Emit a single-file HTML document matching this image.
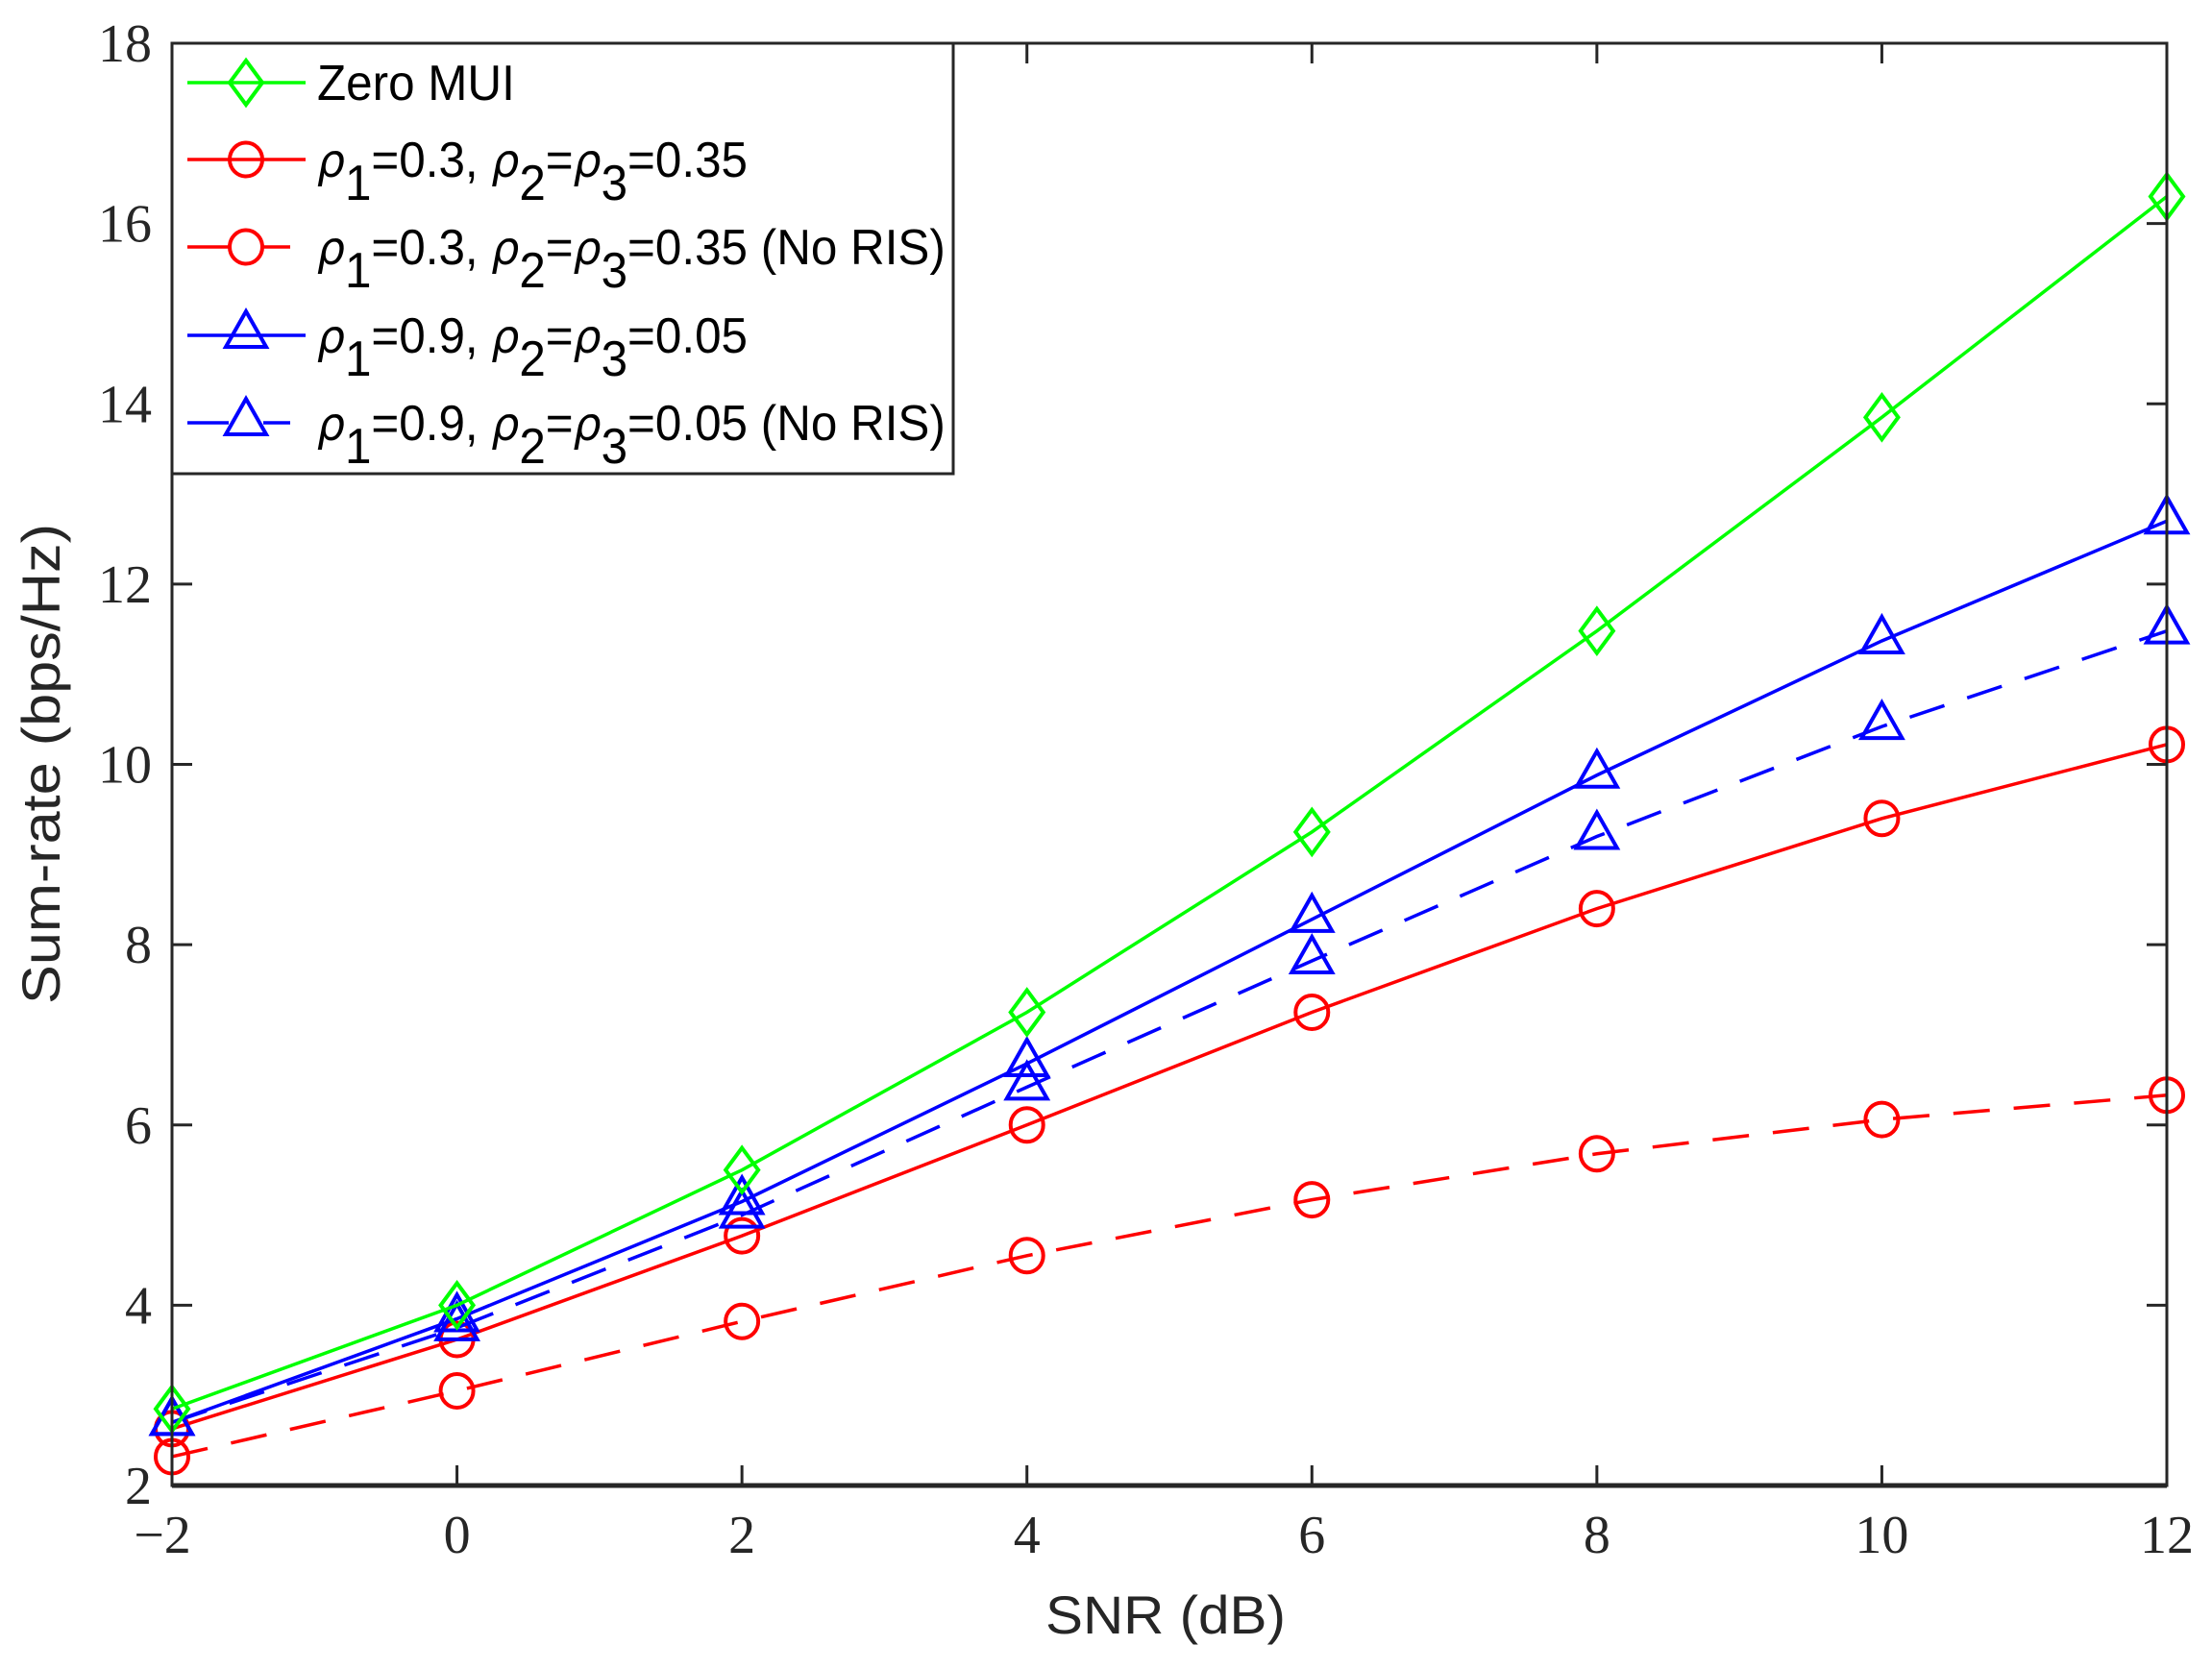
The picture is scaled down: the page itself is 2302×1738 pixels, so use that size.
<!DOCTYPE html>
<html><head><meta charset="utf-8"><style>html,body{margin:0;padding:0;background:#fff}svg{display:block}</style></head>
<body>
<svg id="s" xmlns="http://www.w3.org/2000/svg" width="2302" height="1738" viewBox="0 0 2302 1738">
<rect x="0" y="0" width="2302" height="1738" fill="#fff"/>
<g id="series"></g>
<g id="axes" stroke="#262626" stroke-width="3" fill="none"></g>
<g id="ticks" font-family="'Liberation Serif',serif" font-size="56" fill="#262626"></g>
<text x="1213" y="1700" text-anchor="middle" font-family="'Liberation Sans',sans-serif" font-size="56" fill="#262626" textLength="250" lengthAdjust="spacingAndGlyphs">SNR (dB)</text>
<text transform="translate(62,795) rotate(-90)" text-anchor="middle" font-family="'Liberation Sans',sans-serif" font-size="56" fill="#262626" textLength="500" lengthAdjust="spacingAndGlyphs">Sum-rate (bps/Hz)</text>
<g id="legend"></g>
</svg>
<script>
var NS="http://www.w3.org/2000/svg";
function el(p,t,a,txt){var e=document.createElementNS(NS,t);for(var k in a)e.setAttribute(k,a[k]);if(txt!=null)e.textContent=txt;p.appendChild(e);return e;}
var L=179,R=2255,T=45,B=1546;
function X(v){return L+(v+2)/14*(R-L);}
function Y(v){return B-(v-2)/16*(B-T);}
var xs=[-2,0,2,4,6,8,10,12];
var S=[
 {c:"#00ff00",d:null,m:"d",y:[2.85,4.0,5.5,7.25,9.25,11.48,13.85,16.3]},
 {c:"#0000ff",d:null,m:"t",y:[2.7,3.85,5.15,6.68,8.28,9.88,11.37,12.7]},
 {c:"#0000ff",d:"38 25",m:"t",y:[2.7,3.75,5.0,6.42,7.82,9.2,10.42,11.48]},
 {c:"#ff0000",d:null,m:"o",y:[2.63,3.62,4.77,6.0,7.25,8.4,9.4,10.22]},
 {c:"#ff0000",d:"38 25",m:"o",y:[2.32,3.05,3.82,4.55,5.17,5.68,6.06,6.33]}
];
function marker(g,m,x,y,c){
 var a={fill:"none",stroke:c,"stroke-width":4};
 if(m=="d"){a.points=[x,y-23,x+17,y,x,y+23,x-17,y].join(" ");el(g,"polygon",a);}
 else if(m=="t"){a.points=[x,y-25,x+21,y+12,x-21,y+12].join(" ");el(g,"polygon",a);}
 else{a.cx=x;a.cy=y;a.rx=17;a.ry=17.5;el(g,"ellipse",a);}
}
var sg=document.getElementById("series");
[4,3,2,1,0].forEach(function(i){var s=S[i];
 var pts=xs.map(function(x,j){return X(x)+","+Y(s.y[j]);}).join(" ");
 var a={points:pts,fill:"none",stroke:s.c,"stroke-width":3.5};if(s.d)a["stroke-dasharray"]=s.d;
 el(sg,"polyline",a);
 xs.forEach(function(x,j){marker(sg,s.m,X(x),Y(s.y[j]),s.c);});
});
var ax=document.getElementById("axes");
el(ax,"rect",{x:L,y:T,width:R-L,height:B-T});
el(ax,"line",{x1:L,y1:B,x2:R,y2:B,"stroke-width":5});
var tk=document.getElementById("ticks");
xs.forEach(function(x){
 el(ax,"line",{x1:X(x),y1:B,x2:X(x),y2:B-21});el(ax,"line",{x1:X(x),y1:T,x2:X(x),y2:T+21});
 el(tk,"text",{x:X(x)-(x<0?10:0),y:1616,"text-anchor":"middle"},x<0?"\u22122":String(x));
});
for(var v=2;v<=18;v+=2){
 el(ax,"line",{x1:L,y1:Y(v),x2:L+21,y2:Y(v)});el(ax,"line",{x1:R,y1:Y(v),x2:R-21,y2:Y(v)});
 el(tk,"text",{x:158,y:Y(v)+19,"text-anchor":"end"},String(v));
}
var lg=document.getElementById("legend");
el(lg,"rect",{x:179,y:45,width:813,height:448,fill:"#fff",stroke:"#262626","stroke-width":3});
var rows=[
 {y:86,s:0,t:null},
 {y:166,s:3,t:["0.3","0.35",""]},
 {y:257,s:4,t:["0.3","0.35"," (No RIS)"]},
 {y:349,s:1,t:["0.9","0.05",""]},
 {y:440,s:2,t:["0.9","0.05"," (No RIS)"]}
];
rows.forEach(function(r){var s=S[r.s];
 if(s.d){
  el(lg,"line",{x1:195,y1:r.y,x2:238,y2:r.y,stroke:s.c,"stroke-width":3.5});
  el(lg,"line",{x1:274,y1:r.y,x2:302,y2:r.y,stroke:s.c,"stroke-width":3.5});
 } else el(lg,"line",{x1:195,y1:r.y,x2:318,y2:r.y,stroke:s.c,"stroke-width":3.5});
 marker(lg,s.m,256,r.y,s.c);
 var g=el(lg,"g",{transform:"translate(330,"+(r.y+18)+") scale(0.95,1)"});
 var t=el(g,"text",{x:0,y:0,"font-family":"'Liberation Sans',sans-serif","font-size":52,fill:"#000"});
 if(!r.t){t.textContent="Zero MUI";return;}
 function sp(txt,it,sub){var o={};if(it){o["font-style"]="italic";o["font-family"]="'DejaVu Sans',sans-serif";o["font-size"]=48;}if(sub!=null){o.dy=sub;}return el(t,"tspan",o,txt);}
 sp("\u03c1",1);sp("1",0,"24");sp("="+r.t[0]+", ",0,"-24");
 sp("\u03c1",1);sp("2",0,"24");sp("=",0,"-24");
 sp("\u03c1",1);sp("3",0,"24");sp("="+r.t[1]+r.t[2],0,"-24");
});
</script>
</body></html>
